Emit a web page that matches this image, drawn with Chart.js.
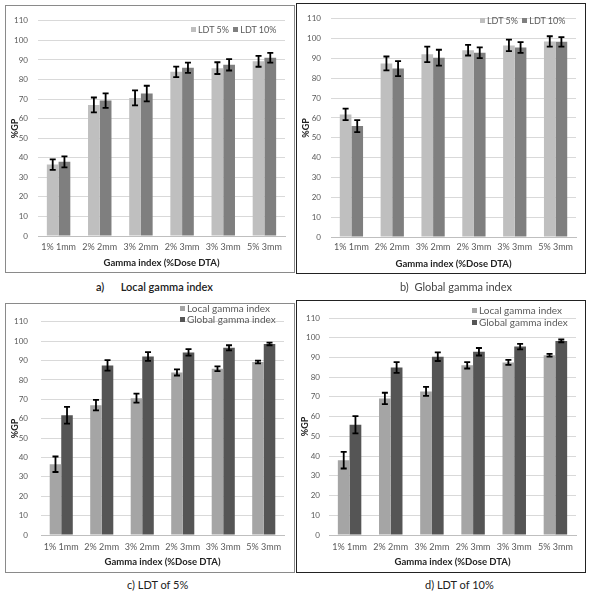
<!DOCTYPE html>
<html>
<head>
<meta charset="utf-8">
<script src="https://cdn.jsdelivr.net/npm/chart.js@4.4.1/dist/chart.umd.min.js"></script>
<style>
  body { margin: 0; background: #fff; width: 589px; height: 595px; position: relative; overflow: hidden; font-family: Lato, sans-serif; }
  .panel { position: absolute; border: 1px solid #555; }
  .panel canvas { display: block; }
  .legend { position: absolute; font-size: 9px; color: #595959; line-height: 11px; white-space: nowrap; }
  .legend span.sq { display: inline-block; width: 5px; height: 5px; margin-right: 2px; vertical-align: 1px; }
  .cap { position: absolute; font-size: 11px; color: #222; white-space: nowrap; }
</style>
</head>
<body>

<div class="panel" id="pa" style="left:5px;top:5px;border-color:#8a8a8a"><canvas id="ca" width="288" height="266"></canvas></div>
<div class="panel" id="pb" style="left:296px;top:3px;border-color:#222"><canvas id="cb" width="288" height="269"></canvas></div>
<div class="panel" id="pc" style="left:5px;top:303px;border-color:#8a8a8a"><canvas id="cc" width="288" height="268"></canvas></div>
<div class="panel" id="pd" style="left:296px;top:300px;border-color:#222"><canvas id="cd" width="288" height="271"></canvas></div>

<div class="legend" style="left:191px;top:24px"><span class="sq" style="background:#bfbfbf"></span>LDT 5% <span class="sq" style="background:#7f7f7f;margin-left:2px"></span>LDT 10%</div>
<div class="legend" style="left:480px;top:15px"><span class="sq" style="background:#bfbfbf"></span>LDT 5% <span class="sq" style="background:#7f7f7f;margin-left:2px"></span>LDT 10%</div>
<div class="legend" style="left:180px;top:303px;font-size:10px;line-height:11px"><span class="sq" style="background:#a5a5a5"></span>Local gamma index<br><span class="sq" style="background:#555"></span>Global gamma index</div>
<div class="legend" style="left:472px;top:304px;font-size:10px;line-height:12px"><span class="sq" style="background:#a5a5a5"></span>Local gamma index<br><span class="sq" style="background:#555"></span>Global gamma index</div>

<div class="cap" style="left:96px;top:280px;font-weight:600">a)&nbsp;&nbsp;&nbsp;&nbsp;&nbsp; Local gamma index</div>
<div class="cap" style="left:400px;top:280px;color:#444">b)&nbsp; Global gamma index</div>
<div class="cap" style="left:127px;top:578px">c) LDT of 5%</div>
<div class="cap" style="left:425px;top:578px">d) LDT of 10%</div>

<script>
const categories = ['1% 1mm', '2% 2mm', '3% 2mm', '2% 3mm', '3% 3mm', '5% 3mm'];

// mean %GP
const localLdt5 = [36.5, 67.0, 70.6, 83.9, 85.8, 89.3];
const localLdt10 = [37.9, 69.2, 72.8, 86.0, 87.5, 91.1];
const globalLdt5 = [61.8, 87.5, 92.1, 94.2, 96.6, 98.6];
const globalLdt10 = [55.9, 84.9, 90.4, 92.9, 95.5, 98.4];

// error bars, each panel has its own
const errLocal5a = [2.7, 3.8, 3.8, 2.7, 3.0, 2.8];
const errLocal10a = [2.8, 3.7, 4.0, 2.6, 2.9, 2.5];
const errGlobal5b = [2.9, 3.5, 3.9, 2.7, 2.9, 2.6];
const errGlobal10b = [3.0, 3.8, 4.0, 2.7, 2.7, 2.4];
const errLocal5c = [4.0, 2.7, 2.3, 1.6, 1.2, 0.7];
const errGlobal5c = [4.3, 2.7, 2.3, 1.7, 1.3, 0.7];
const errLocal10d = [4.2, 2.9, 2.3, 1.6, 1.3, 0.7];
const errGlobal10d = [4.4, 2.7, 2.2, 1.9, 1.4, 0.7];

Chart.defaults.font.family = 'Lato';
Chart.defaults.color = '#595959';

const errorBars = {
  id: 'errorBars',
  afterDatasetsDraw(chart) {
    const ctx = chart.ctx;
    const y = chart.scales.y;
    chart.data.datasets.forEach((ds, i) => {
      const meta = chart.getDatasetMeta(i);
      meta.data.forEach((bar, j) => {
        const top = y.getPixelForValue(ds.data[j] + ds.errors[j]);
        const bot = y.getPixelForValue(ds.data[j] - ds.errors[j]);
        ctx.save();
        ctx.strokeStyle = '#000';
        ctx.lineWidth = 1.8;
        ctx.beginPath();
        ctx.moveTo(bar.x, top); ctx.lineTo(bar.x, bot);
        ctx.moveTo(bar.x - 3, top); ctx.lineTo(bar.x + 3, top);
        ctx.moveTo(bar.x - 3, bot); ctx.lineTo(bar.x + 3, bot);
        ctx.stroke();
        ctx.restore();
      });
    });
  }
};

function makePanel(id, sets, lay) {
  new Chart(document.getElementById(id), {
    type: 'bar',
    data: {
      labels: categories,
      datasets: sets.map(s => ({
        data: s.data,
        errors: s.errors,
        backgroundColor: s.color,
        borderWidth: 0,
        categoryPercentage: 0.57,
        barPercentage: 1,
      })),
    },
    plugins: [errorBars],
    options: {
      responsive: false,
      animation: false,
      events: [],
      layout: { padding: { left: 0, right: lay.right, top: lay.top, bottom: 0 } },
      plugins: { legend: { display: false }, tooltip: { enabled: false } },
      scales: {
        x: {
          afterFit: s => { s.height = lay.xh; },
          grid: { display: false, drawTicks: false },
          border: { display: true, color: '#bfbfbf' },
          ticks: { font: { size: 9 }, padding: lay.xpad, maxRotation: 0 },
          title: {
            display: true,
            text: 'Gamma index (%Dose DTA)',
            color: '#222',
            font: { size: 9.5, weight: 'bold' },
            padding: { top: 0, bottom: lay.tpad },
          },
        },
        y: {
          min: 0,
          max: 110,
          afterFit: s => { s.width = lay.yw; },
          grid: { color: '#d9d9d9', drawTicks: false },
          border: { display: false },
          ticks: { stepSize: 10, font: { size: 8 }, padding: lay.ypad },
          title: {
            display: true,
            text: '%GP',
            color: '#222',
            font: { size: 9, weight: 'bold' },
            padding: { top: lay.ytpad, bottom: 0 },
          },
        },
      },
    },
  });
}

makePanel('ca', [
  { data: localLdt5, errors: errLocal5a, color: '#bfbfbf' },
  { data: localLdt10, errors: errLocal10a, color: '#7f7f7f' },
], { right: 9, top: 14, xh: 36, yw: 32, xpad: 6, tpad: 3, ypad: 10, ytpad: 4 });

makePanel('cb', [
  { data: globalLdt5, errors: errGlobal5b, color: '#bfbfbf' },
  { data: globalLdt10, errors: errGlobal10b, color: '#7f7f7f' },
], { right: 9, top: 11, xh: 36, yw: 34, xpad: 5, tpad: 3, ypad: 10, ytpad: 4 });

makePanel('cc', [
  { data: localLdt5, errors: errLocal5c, color: '#a5a5a5' },
  { data: globalLdt5, errors: errGlobal5c, color: '#555555' },
], { right: 10, top: 11, xh: 37, yw: 35, xpad: 7, tpad: 4, ypad: 13, ytpad: 4 });

makePanel('cd', [
  { data: localLdt10, errors: errLocal10d, color: '#a5a5a5' },
  { data: globalLdt10, errors: errGlobal10d, color: '#555555' },
], { right: 9, top: 17, xh: 37, yw: 32, xpad: 7, tpad: 4, ypad: 9, ytpad: 3 });
</script>
</body>
</html>
